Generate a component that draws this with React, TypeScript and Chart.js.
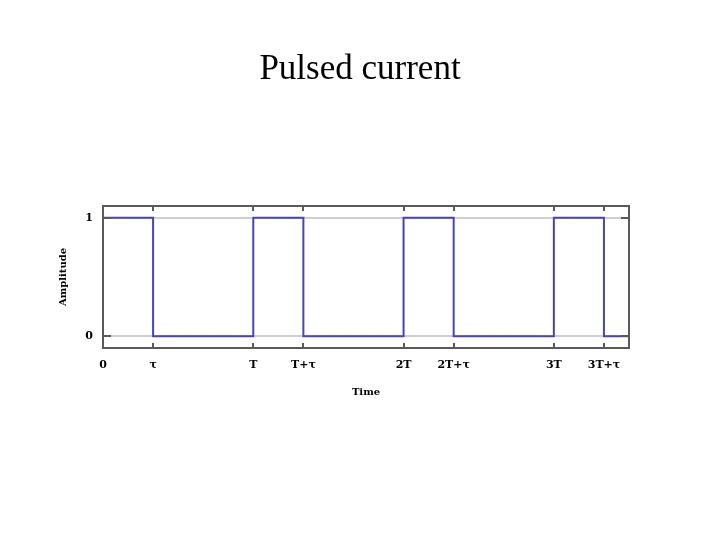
import React, { useEffect, useRef } from "react";
import { Chart, registerables } from "chart.js";

Chart.register(...registerables);

// Pulse train: times (in units of tau, T = 3 tau) and amplitudes at each change
const times = [0, 1, 3, 4, 6, 7, 9, 10, 10.5];
const amplitudes = [1, 0, 1, 0, 1, 0, 1, 0, 0];

const xTickValues = [0, 1, 3, 4, 6, 7, 9, 10];
const xTickLabels = ["0", "τ", "T", "T+τ", "2T", "2T+τ", "3T", "3T+τ"];
const yTickValues = [0, 1];
const yTickLabels = ["0", "1"];

const title = "Pulsed current";
const xTitle = "Time";
const yTitle = "Amplitude";

const frameColor = "#5a5a5a";

const framePlugin = {
  id: "frameTicks",
  afterDatasetsDraw(chart: any) {
    const { ctx, chartArea, scales } = chart;
    const { left, right, top, bottom } = chartArea;
    ctx.save();
    ctx.strokeStyle = frameColor;
    ctx.lineWidth = 2;
    const len = 5;
    ctx.beginPath();
    for (const v of xTickValues) {
      const x = Math.round(scales.x.getPixelForValue(v));
      ctx.moveTo(x, top);
      ctx.lineTo(x, top + len);
      ctx.moveTo(x, bottom);
      ctx.lineTo(x, bottom - len);
    }
    for (const v of yTickValues) {
      const y = Math.round(scales.y.getPixelForValue(v));
      ctx.moveTo(left, y);
      ctx.lineTo(left + len + 3, y);
      ctx.moveTo(right, y);
      ctx.lineTo(right - len - 3, y);
    }
    ctx.stroke();
    ctx.strokeRect(left, top, right - left, bottom - top);
    ctx.restore();
  },
};

const titlePlugin = {
  id: "pageTitle",
  afterDraw(chart: any) {
    const { ctx } = chart;
    ctx.save();
    ctx.fillStyle = "#000";
    ctx.font = "35px 'Liberation Serif'";
    ctx.textAlign = "center";
    ctx.textBaseline = "alphabetic";
    ctx.fillText(title, chart.width / 2, 79);
    ctx.restore();
  },
};

export default function App() {
  const ref = useRef<HTMLCanvasElement>(null);
  useEffect(() => {
    if (!ref.current) return;
    const tickFont = { family: "DejaVu Serif", size: 11, weight: "bold" as const };
    const chart = new Chart(ref.current, {
      type: "line",
      data: {
        datasets: [
          {
            data: times.map((t, i) => ({ x: t, y: amplitudes[i] })),
            borderColor: "#4444c4",
            borderWidth: 2,
            pointRadius: 0,
            stepped: true,
            fill: false,
          },
        ],
      },
      options: {
        animation: false,
        responsive: false,
        devicePixelRatio: 1,
        layout: { padding: { left: 0, right: 91, top: 206, bottom: 132 } },
        plugins: {
          legend: { display: false },
          tooltip: { enabled: false },
          title: { display: false },
        },
        scales: {
          x: {
            type: "linear",
            min: 0,
            max: 10.5,
            afterBuildTicks: (s: any) => {
              s.ticks = xTickValues.map((v) => ({ value: v }));
            },
            afterFit: (s: any) => {
              s.height = 60;
            },
            ticks: {
              autoSkip: false,
              maxRotation: 0,
              padding: 11,
              color: "#000",
              font: tickFont,
              callback: (v: any) => {
                const i = xTickValues.indexOf(Number(v));
                return i >= 0 ? xTickLabels[i] : "";
              },
            },
            grid: { display: false, drawTicks: false },
            border: { display: false },
            title: {
              display: true,
              text: xTitle,
              color: "#000",
              font: { family: "DejaVu Serif", size: 10, weight: "bold" },
              padding: { top: 0, bottom: 10 },
            },
          },
          y: {
            type: "linear",
            min: -0.1,
            max: 1.1,
            afterBuildTicks: (s: any) => {
              s.ticks = yTickValues.map((v) => ({ value: v }));
            },
            afterFit: (s: any) => {
              s.width = 103;
            },
            ticks: {
              padding: 10,
              color: "#000",
              font: tickFont,
              callback: (v: any) => {
                const i = yTickValues.indexOf(Number(v));
                return i >= 0 ? yTickLabels[i] : "";
              },
            },
            grid: { color: "#cfcfcf", lineWidth: 2, drawTicks: false },
            border: { display: false },
            title: {
              display: true,
              text: yTitle,
              color: "#000",
              font: { family: "DejaVu Serif", size: 10, weight: "bold" },
              padding: { top: 57, bottom: 0 },
            },
          },
        },
      },
      plugins: [framePlugin, titlePlugin],
    });
    return () => chart.destroy();
  }, []);
  return (
    <div style={{ position: "fixed", left: 0, top: 0, width: 720, height: 540, background: "#fff" }}>
      <canvas ref={ref} width={720} height={540} />
    </div>
  );
}
